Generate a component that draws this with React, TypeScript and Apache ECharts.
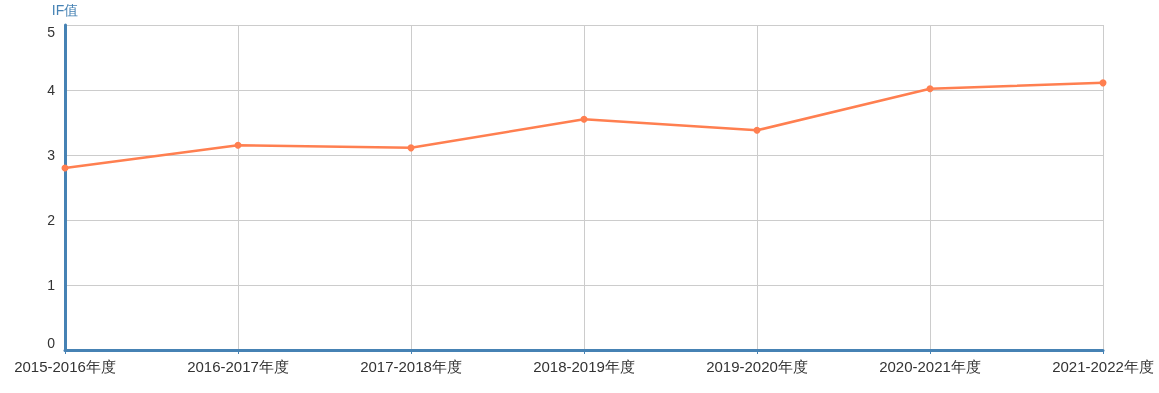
import React, { useEffect, useRef } from "react";
import * as echarts from "echarts";

const categories = [
  "2015-2016年度",
  "2016-2017年度",
  "2017-2018年度",
  "2018-2019年度",
  "2019-2020年度",
  "2020-2021年度",
  "2021-2022年度",
];
const ifValues = [2.8, 3.15, 3.11, 3.55, 3.38, 4.02, 4.11];
const yAxisName = "IF值";

export default function App() {
  const ref = useRef<HTMLDivElement>(null);
  useEffect(() => {
    if (!ref.current) return;
    const chart = echarts.init(ref.current, null, { renderer: "svg" });
    chart.setOption({
      animation: false,
      grid: { left: 65, right: 56, top: 25, bottom: 43 },
      xAxis: {
        type: "category",
        data: categories,
        boundaryGap: false,
        axisLine: { lineStyle: { color: "#4682b4", width: 3 } },
        axisTick: { show: true, length: 4, lineStyle: { color: "#4682b4" } },
        axisLabel: { color: "#333", fontSize: 15, margin: 9, fontFamily: "Arial, Liberation Sans, sans-serif" },
        splitLine: { show: true, lineStyle: { color: "#ccc" } },
      },
      yAxis: {
        type: "value",
        name: yAxisName,
        min: 0,
        max: 5,
        interval: 1,
        nameGap: 8,
        nameTextStyle: { color: "#4682b4", fontSize: 14, align: "center", fontFamily: "Arial, Liberation Sans, sans-serif" },
        axisLine: { show: true, lineStyle: { color: "#4682b4", width: 3 } },
        axisTick: { show: false },
        axisLabel: {
          color: "#333",
          fontSize: 14,
          margin: 10,
          fontFamily: "Arial, Liberation Sans, sans-serif",
          verticalAlignMinLabel: "bottom",
          verticalAlignMaxLabel: "top",
        },
        splitLine: { show: true, lineStyle: { color: "#ccc" } },
      },
      series: [
        {
          type: "line",
          data: ifValues,
          symbol: "circle",
          symbolSize: 7,
          lineStyle: { color: "#ff7f50", width: 2.5 },
          itemStyle: { color: "#ff7f50" },
        },
      ],
    });
    return () => chart.dispose();
  }, []);
  return (
    <div
      ref={ref}
      style={{ position: "fixed", left: 0, top: 0, width: 1159, height: 393 }}
    />
  );
}
